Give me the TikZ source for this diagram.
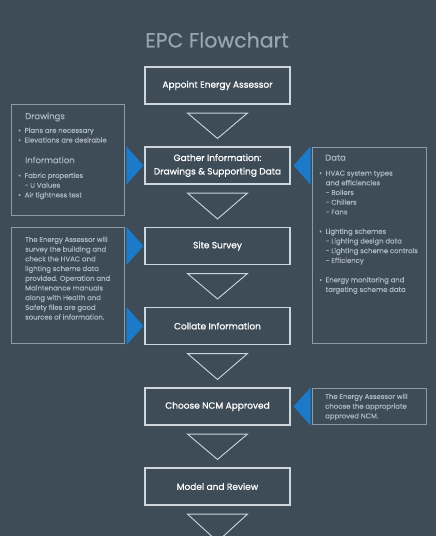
\documentclass[tikz,border=0pt]{standalone}
\usepackage{fontspec}
\setmainfont{Poppins}
\newfontfamily\medfont{Poppins}[FakeBold=0.8]
\newfontfamily\titlefont{Poppins}[FakeBold=0.5]
\newfontfamily\lightmed{Poppins}[FakeBold=0.4]
\usetikzlibrary{calc}
\definecolor{bgc}{RGB}{62,76,87}
\definecolor{boxline}{RGB}{205,214,220}
\definecolor{titlec}{RGB}{150,166,178}
\definecolor{sidetext}{RGB}{172,183,192}
\definecolor{sideline}{RGB}{140,155,165}
\definecolor{arrblue}{RGB}{28,122,200}
\newcommand\bul{\makebox[6.5pt][l]{•}}
\newcommand\ind{\hspace*{6.5pt}}
\begin{document}
\begin{tikzpicture}[x=1pt,y=-1pt,
  mainbox/.style={draw=boxline, line width=1.1pt, minimum width=145pt, minimum height=37pt,
    text=white, font=\medfont\fontsize{9}{13.5}\selectfont, align=center, inner sep=0pt},
  sidebox/.style={draw=sideline, line width=0.7pt, anchor=north west, inner sep=0pt},
  sidehead/.style={text=sidetext, font=\lightmed\fontsize{8.5}{10}\selectfont, anchor=north west, inner sep=0pt},
  sidetxt/.style={text=sidetext, font=\lightmed\fontsize{6.9}{9.7}\selectfont, align=left, anchor=north west, inner sep=0pt},
  downtri/.style={draw=boxline, line width=0.9pt, line join=miter},
  bluetri/.style={fill=arrblue, draw=none}
]
\fill[bgc] (0,0) rectangle (436,536);
\useasboundingbox (0,0) rectangle (436,536);

\node[text=titlec, font=\titlefont\fontsize{20.5}{24}\selectfont] (title) at (217,40) {EPC Flowchart};

\node[mainbox] (b1) at (217.5,85.5) {Appoint Energy Assessor};
\node[mainbox] (b2) at (217.5,165.5) {Gather Information:\\Drawings \& Supporting Data};
\node[mainbox] (b3) at (217.5,246) {Site Survey};
\node[mainbox] (b4) at (217.5,326) {Collate Information};
\node[mainbox] (b5) at (217.5,406.5) {Choose NCM Approved};
\node[mainbox] (b6) at (217.5,486.5) {Model and Review};

% down triangles
\foreach \a/\b in {b1/b2,b2/b3,b3/b4,b4/b5,b5/b6}{
  \draw[downtri] ($(\a.south)+(-30,8.5)$) -- ($(\a.south)+(30,8.5)$) -- ($(\b.north)+(0,-8)$) -- cycle;
}
\draw[downtri] ($(b6.south)+(-30,8.5)$) -- ($(b6.south)+(30,8.5)$) -- ($(b6.south)+(0,36)$) -- cycle;

% side boxes
\node[sidebox, minimum width=113pt, minimum height=111pt] (s1) at (11,104) {};
\node[sidebox, minimum width=113pt, minimum height=116pt] (s2) at (11,227) {};
\node[sidebox, minimum width=114pt, minimum height=196pt] (s3) at (312,147) {};
\node[sidebox, minimum width=114pt, minimum height=36pt] (s4) at (312,388) {};

% blue pointers
\fill[bluetri] ($(b2.north west)+(-18,0)$) -- ($(b2.west)+(-1,0)$) -- ($(b2.south west)+(-18,0)$) -- cycle;
\fill[bluetri] ($(b3.north west)+(-18,0)$) -- ($(b3.west)+(-1,0)$) -- ($(b3.south west)+(-18,0)$) -- cycle;
\fill[bluetri] ($(b4.north west)+(-18,0)$) -- ($(b4.west)+(-1,0)$) -- ($(b4.south west)+(-18,0)$) -- cycle;
\fill[bluetri] ($(b2.north east)+(20,0)$) -- ($(b2.east)+(3,0)$) -- ($(b2.south east)+(20,0)$) -- cycle;
\fill[bluetri] ($(b5.north east)+(20,0)$) -- ($(b5.east)+(3,0)$) -- ($(b5.south east)+(20,0)$) -- cycle;

% left box 1 text
\node[sidehead] (h1) at (25,112.5) {Drawings};
\node[sidetxt] (t1) at (18,127.5) {\bul Plans are necessary\\\bul Elevations are desirable};
\node[sidehead] (h2) at (25,156.5) {Information};
\node[sidetxt] (t2) at (18,172.5) {\bul Fabric properties\\\ind - U Values\\\bul Air tightness test};

% left box 2 text
\node[sidetxt] (t3) at (25,236.5) {The Energy Assessor will\\survey the building and\\check the HVAC and\\lighting scheme data\\provided. Operation and\\Maintenance manuals\\along with Health and\\Safety files are good\\sources of information.};

% data box
\node[sidehead] (h3) at (325,154.5) {Data};
\node[sidetxt] (t4) at (319,170.5) {\bul HVAC system types\\\ind and efficiencies\\\ind - Boilers\\\ind - Chillers\\\ind - Fans\\[9.7pt]\bul Lighting schemes\\\ind - Lighting design data\\\ind - Lighting scheme controls\\\ind - Efficiency\\[9.7pt]\bul Energy monitoring and\\\ind targeting scheme data};

% NCM box text
\node[sidetxt] (t5) at (325,393.5) {The Energy Assessor will\\choose the appropriate\\approved NCM.};
\end{tikzpicture}
\end{document}
